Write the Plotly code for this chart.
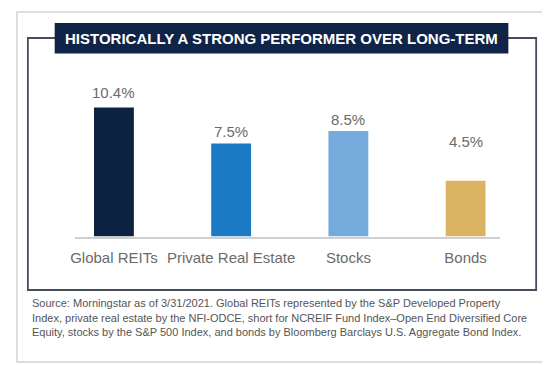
import plotly.graph_objects as go

categories = ["Global REITs", "Private Real Estate", "Stocks", "Bonds"]
returns = [10.4, 7.5, 8.5, 4.5]
value_labels = ["10.4%", "7.5%", "8.5%", "4.5%"]
bar_colors = ["#0c2242", "#1a7ac4", "#74aadc", "#dbb463"]
label_offsets = [15, 12, 12, 39]

title_text = "HISTORICALLY A STRONG PERFORMER OVER LONG-TERM"
footer_lines = [
    "Source: Morningstar as of 3/31/2021. Global REITs represented by the S&P Developed Property",
    "Index, private real estate by the NFI-ODCE, short for NCREIF Fund Index\u2013Open End Diversified Core",
    "Equity, stocks by the S&P 500 Index, and bonds by Bloomberg Barclays U.S. Aggregate Bond Index.",
]

W, H = 550, 365
FONT = "Liberation Sans, Arial, sans-serif"


def px(x):
    return x / W


def py(y):
    return 1 - y / H


fig = go.Figure()
fig.add_trace(go.Bar(
    x=categories, y=returns, marker=dict(color=bar_colors, line=dict(width=0)),
    width=0.34, hoverinfo="skip", showlegend=False,
))

for c, v, t, off in zip(categories, returns, value_labels, label_offsets):
    fig.add_annotation(x=c, y=v, xref="x", yref="y", text=t, showarrow=False,
                       yanchor="middle", yshift=off,
                       font=dict(family=FONT, size=15, color="#6b6b6b"))

shapes = [
    dict(type="rect", xref="paper", yref="paper", x0=px(5), x1=px(542), y0=py(354), y1=py(4),
         line=dict(color="#d4d4d4", width=1.5), fillcolor="rgba(0,0,0,0)", layer="below"),
    dict(type="rect", xref="paper", yref="paper", x0=px(16), x1=px(528), y0=py(282), y1=py(30),
         line=dict(color="#454e5d", width=1.8), fillcolor="rgba(0,0,0,0)", layer="below"),
    dict(type="rect", xref="paper", yref="paper", x0=px(43), x1=px(500), y0=py(45.5), y1=py(15),
         line=dict(width=0), fillcolor="#0f2447", layer="above"),
]

annotations = [
    dict(x=px(271.5), y=py(30.5), xref="paper", yref="paper", text="<b>" + title_text + "</b>",
         showarrow=False, xanchor="center", yanchor="middle",
         font=dict(family=FONT, size=15, color="#ffffff")),
]
for i, line in enumerate(footer_lines):
    annotations.append(dict(x=px(18), y=py(295 + 14.5 * i), xref="paper", yref="paper",
                            text=line, showarrow=False, xanchor="left", yanchor="middle",
                            font=dict(family=FONT, size=11, color="#555555")))
for a in annotations:
    fig.add_annotation(**a)

fig.update_layout(
    width=W, height=H, autosize=False,
    margin=dict(l=0, r=0, t=0, b=0),
    paper_bgcolor="#ffffff", plot_bgcolor="rgba(0,0,0,0)",
    shapes=shapes,
    xaxis=dict(domain=[px(63), px(492)], range=[-0.336, 3.297], showgrid=False,
               showline=True, linecolor="#cfcfcf", linewidth=1.5, ticks="",
               tickangle=0, ticklabelstandoff=7,
               tickfont=dict(family=FONT, size=15, color="#6b6b6b"), fixedrange=True),
    yaxis=dict(domain=[py(228.5), py(79.7)], range=[0, 12], visible=False, fixedrange=True),
)

fig.write_html("out.html")
